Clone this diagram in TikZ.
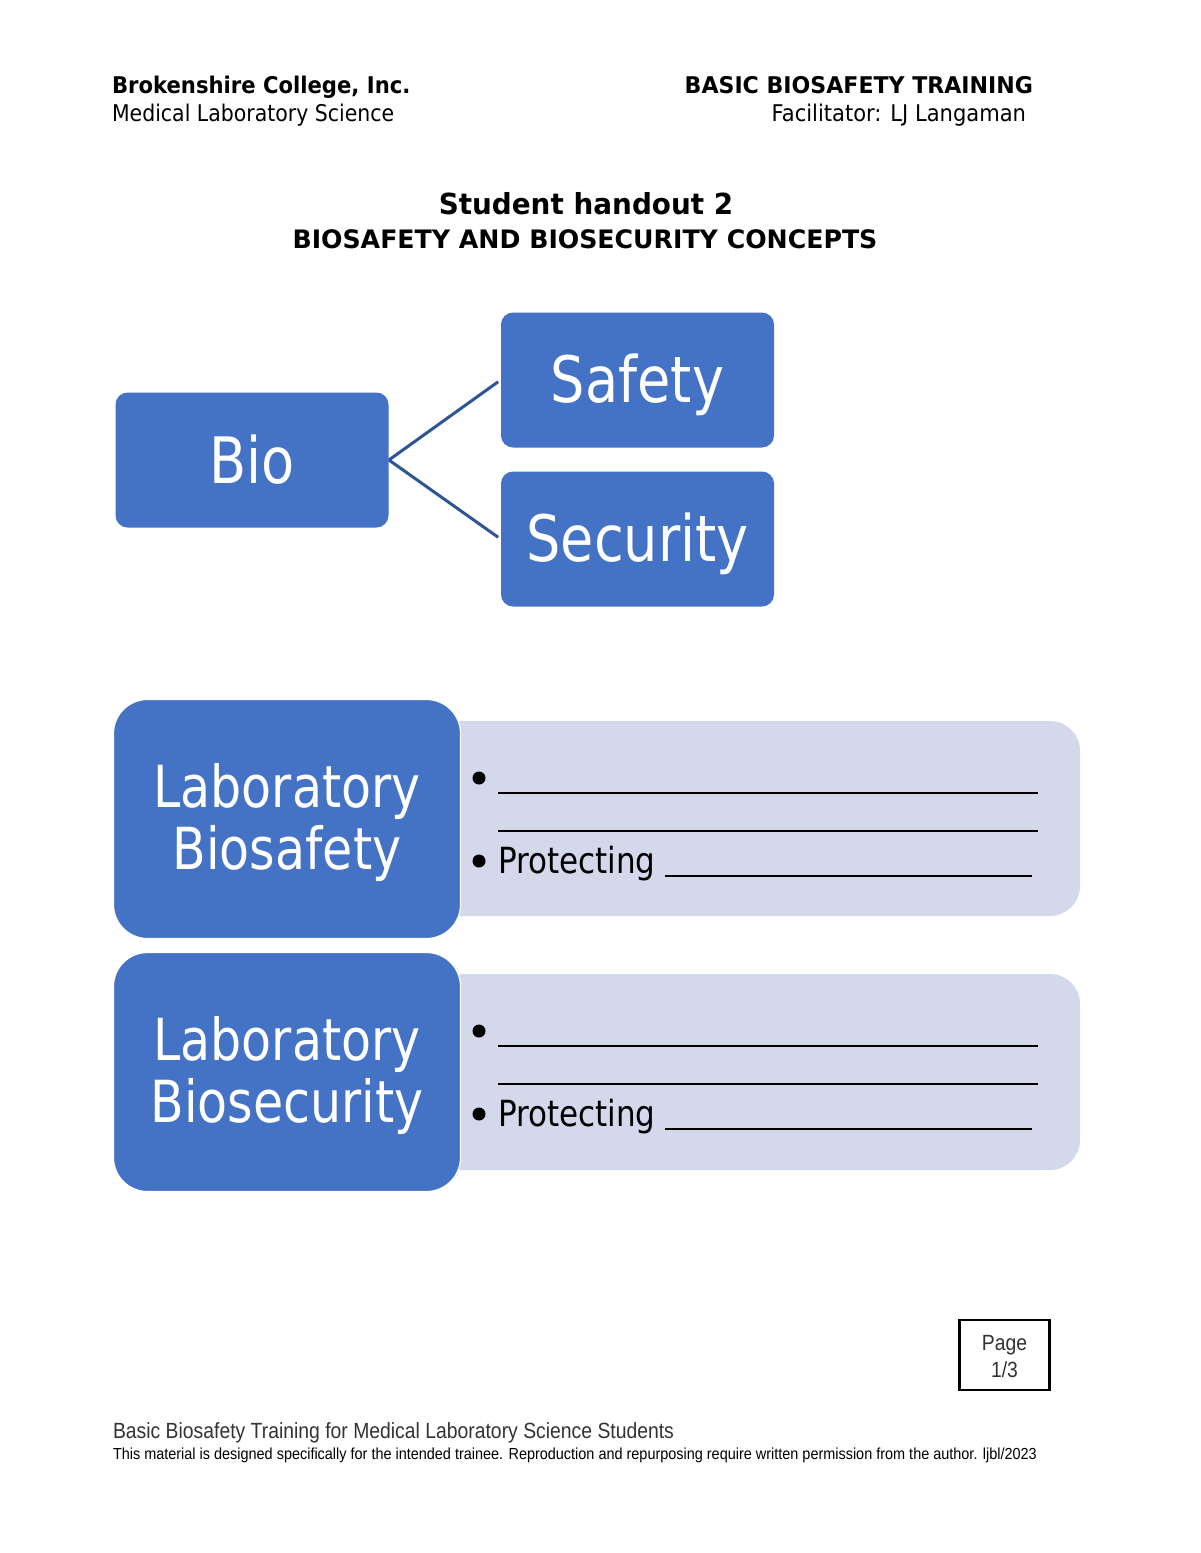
\documentclass[tikz,border=0pt]{standalone}
\usepackage{fontspec}
\setmainfont{DejaVu Sans}
\newfontfamily\headfont[FakeStretch=0.92]{DejaVu Sans}
\newfontfamily\headnarrow[FakeStretch=0.89]{DejaVu Sans}
\newfontfamily\facfont[FakeStretch=0.915]{DejaVu Sans}
\newfontfamily\headwide[FakeStretch=0.96]{DejaVu Sans}
\newfontfamily\subfont[FakeStretch=0.993]{DejaVu Sans}
\newfontfamily\boxfont[FakeStretch=0.94]{DejaVu Sans Condensed}
\newfontfamily\listfont[FakeStretch=0.957]{DejaVu Sans Condensed}
\newfontfamily\footfont[FakeStretch=0.88]{Liberation Sans}
\newfontfamily\legalfont[FakeStretch=0.903]{Liberation Sans}
\definecolor{bluefill}{HTML}{4472C4}
\definecolor{paleblue}{HTML}{D3D8EA}
\definecolor{linkblue}{HTML}{2F5597}
\definecolor{thingray}{HTML}{333333}
\tikzset{
 x=0.5pt,y=-0.5pt,
 txt/.style={inner sep=0pt,outer sep=0pt,text=black},
 bluebox/.style={draw=none,fill=bluefill,rounded corners=6pt,text=white,inner sep=0pt,align=center,font=\boxfont},
 bigbox/.style={bluebox,draw=white,line width=0.6pt,rounded corners=17pt,minimum width=173.5pt,minimum height=119.5pt},
 smallbox/.style={bluebox,minimum width=136.5pt,minimum height=67.5pt},
 panel/.style={fill=paleblue,rounded corners=15pt},
 writeline/.style={draw=black,line width=1.1pt},
 link/.style={draw=linkblue,line width=1.5pt,shorten >=1.5pt},
 dot/.style={circle,fill=black,inner sep=0pt,minimum size=6.5pt}
}
\begin{document}
\begin{tikzpicture}
\useasboundingbox (0,0) rectangle (1200,1553);
\fill[white] (0,0) rectangle (1200,1553);
\node[txt,anchor=base west,font=\headfont\fontsize{11.5}{12}\selectfont\bfseries] (college) at (112,93) {Brokenshire College, Inc.};
\node[txt,anchor=base west,font=\headnarrow\fontsize{11.5}{12}\selectfont] (dept) at (112,121) {Medical Laboratory Science};
\node[txt,anchor=base east,font=\headwide\fontsize{11.5}{12}\selectfont\bfseries] (course) at (1033,93) {BASIC BIOSAFETY TRAINING};
\node[txt,anchor=base east,font=\facfont\fontsize{11.5}{12}\selectfont] (fac) at (1026,121) {Facilitator: LJ Langaman};
\node[txt,font=\headwide\fontsize{14.5}{15}\selectfont\bfseries] (title) at (586,204) {Student handout 2};
\node[txt,font=\subfont\fontsize{12.7}{13}\selectfont\bfseries] (sub) at (585,239) {BIOSAFETY AND BIOSECURITY CONCEPTS};
% top tree
\node[smallbox] (bio) at (252,460) {};
\node[smallbox] (safety) at (637.5,380) {};
\node[smallbox] (security) at (637.5,539) {};
\node[txt,text=white,font=\boxfont\fontsize{32}{32}\selectfont] (biot) at (252,460) {Bio};
\node[txt,text=white,anchor=base,font=\boxfont\fontsize{32}{32}\selectfont] (safetyt) at (637.5,402) {Safety};
\node[txt,text=white,anchor=base,font=\boxfont\fontsize{32}{32}\selectfont] (securityt) at (637.5,561) {Security};
\draw[link] (bio.east) -- (safety.west);
\draw[link] (bio.east) -- (security.west);
% panel 1
\fill[panel] (400,721) rectangle (1080,916);
\node[bigbox] (labsafe) at (287,819) {};
\node[txt,text=white,align=center,font=\boxfont\fontsize{29}{31}\selectfont] (labsafet) at (287,822.5) {Laboratory\\[0pt]Biosafety};
\node[dot] (d1) at (479,778) {};
\node[dot] (d2) at (479,861) {};
\coordinate (a1) at (498,793); \coordinate (a2) at (1038,793);
\coordinate (b1) at (498,831); \coordinate (b2) at (1038,831);
\coordinate (c1) at (665,876); \coordinate (c2) at (1032,876);
\draw[writeline] (a1) -- (a2); \draw[writeline] (b1) -- (b2); \draw[writeline] (c1) -- (c2);
\node[txt,anchor=base west,font=\listfont\fontsize{18}{18}\selectfont] (p1) at (498,873) {Protecting};
% panel 2
\fill[panel] (400,974) rectangle (1080,1170);
\node[bigbox] (labsec) at (287,1072) {};
\node[txt,text=white,align=center,font=\boxfont\fontsize{29}{31}\selectfont] (labsect) at (287,1075.5) {Laboratory\\[0pt]Biosecurity};
\node[dot] (d3) at (479,1031) {};
\node[dot] (d4) at (479,1114) {};
\coordinate (e1) at (498,1046); \coordinate (e2) at (1038,1046);
\coordinate (f1) at (498,1084); \coordinate (f2) at (1038,1084);
\coordinate (g1) at (665,1129); \coordinate (g2) at (1032,1129);
\draw[writeline] (e1) -- (e2); \draw[writeline] (f1) -- (f2); \draw[writeline] (g1) -- (g2);
\node[txt,anchor=base west,font=\listfont\fontsize{18}{18}\selectfont] (p2) at (498,1126) {Protecting};
% page box
\node[draw=black,line width=1.3pt,minimum width=45pt,minimum height=35pt,inner sep=0pt] (page) at (1004.5,1355) {};
\node[txt,text=thingray,align=center,font=\footfont\fontsize{11}{13.5}\selectfont] (paget) at (1004.5,1357) {Page\\1/3};
% footer
\node[txt,anchor=base west,text=thingray,font=\footfont\fontsize{11}{12}\selectfont] (foot1) at (113,1438) {Basic Biosafety Training for Medical Laboratory Science Students};
\node[txt,anchor=base west,font=\legalfont\fontsize{8}{9}\selectfont] (foot2) at (113,1459) {This material is designed specifically for the intended trainee. Reproduction and repurposing require written permission from the author. ljbl/2023};
\end{tikzpicture}
\end{document}
